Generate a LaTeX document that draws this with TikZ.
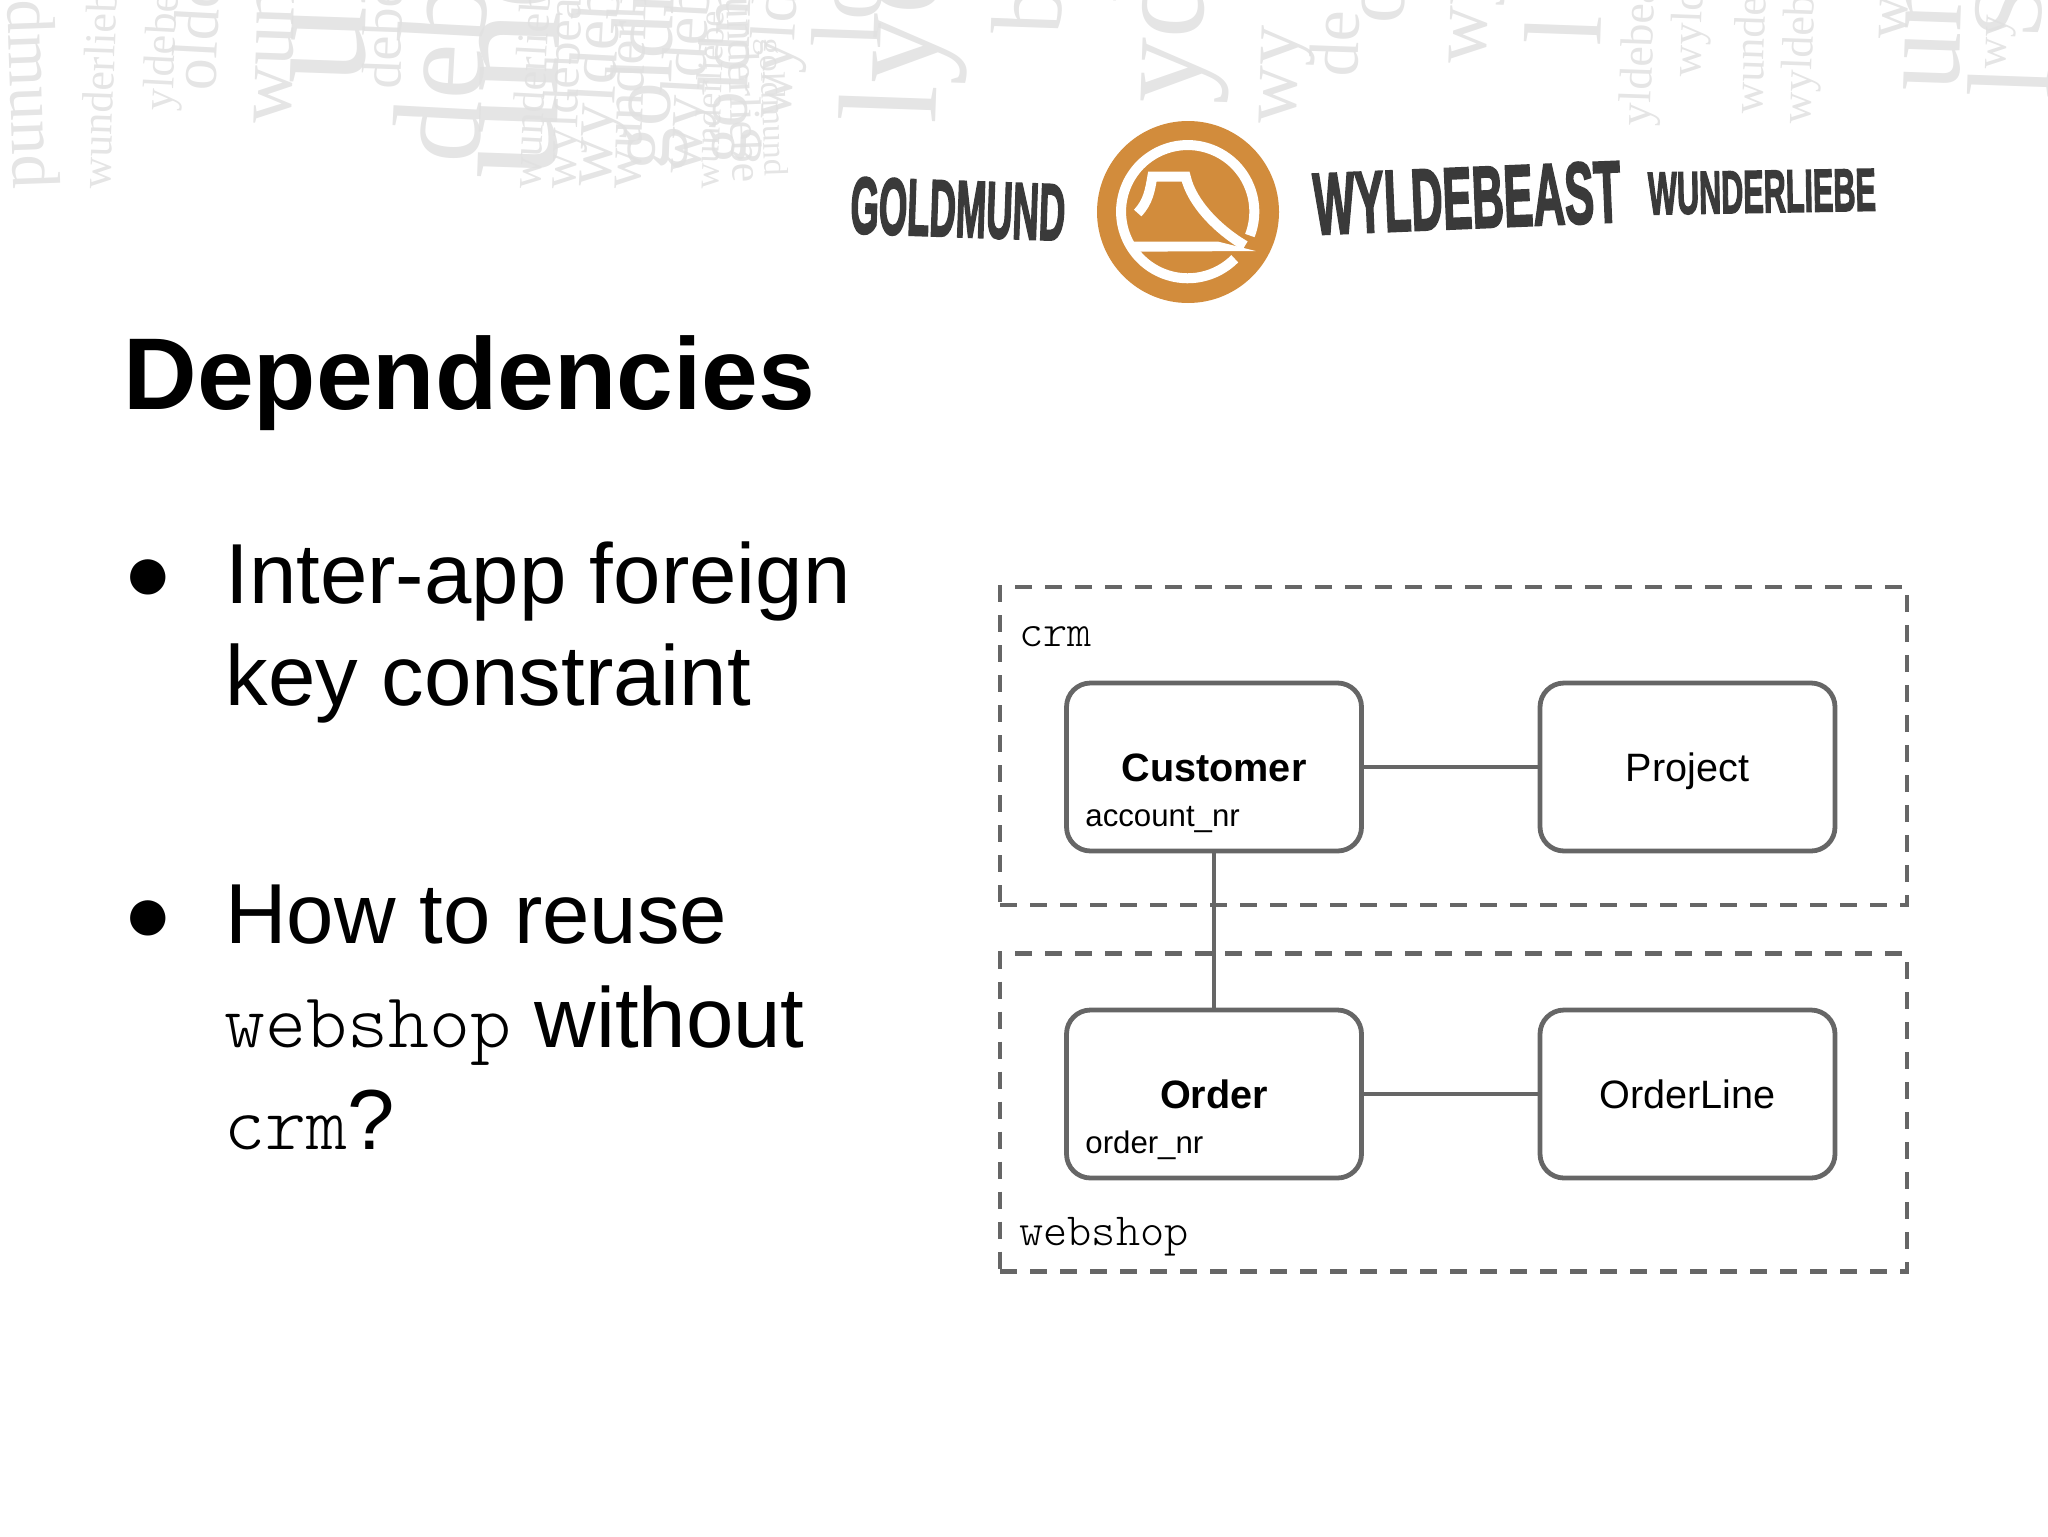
\documentclass[tikz,border=0pt]{standalone}
\usepackage{fontspec}
\setmainfont{Liberation Sans}
\newfontfamily\bgfont{Liberation Serif}
\newfontfamily\logofont[BoldFeatures={FakeBold=3}]{Liberation Sans}
\newfontfamily\codefont{Latin Modern Mono Light}
\definecolor{linegray}{HTML}{666666}
\definecolor{bggray}{HTML}{E0E0E0}
\definecolor{logoorange}{HTML}{D28C3C}
\definecolor{logodark}{HTML}{3A3A3A}
\tikzset{
  bgword/.style={inner sep=0pt, text=bggray, text opacity=0.85, font=\bgfont},
  logoword/.style={inner sep=0pt, text=logodark, font=\logofont\bfseries},
  slidetext/.style={anchor=base west, inner sep=0pt, font=\fontsize{42.6}{42.6}\selectfont},
  bulletmark/.style={inner sep=0pt, font=\fontsize{41}{41}\selectfont},
  groupbox/.style={draw=linegray, line width=2.4pt, dash pattern=on 8.5pt off 6.5pt,
    minimum width=453.5pt, minimum height=159pt, inner sep=0pt},
  grouplabel/.style={anchor=base west, inner sep=0pt, font=\codefont\fontsize{23}{23}\selectfont},
  entity/.style={draw=linegray, line width=2.4pt, rounded corners=12pt, fill=white,
    minimum width=147.5pt, minimum height=84pt, inner sep=0pt,
    text height=14pt, text depth=0pt, font=\fontsize{19.8}{24}\selectfont},
  keyfield/.style={anchor=base west, inner sep=0pt, font=\fontsize{15.6}{18}\selectfont},
  link/.style={draw=linegray, line width=2.4pt},
}
\begin{document}
\begin{tikzpicture}[x=0.5pt, y=-0.5pt]
  \useasboundingbox (0,0) rectangle (2048,1536);
  % background words
  \foreach \px/\py/\ang/\sz/\word [count=\n] in {
    110/190/88/22/wunderliebe, 172/112/87/22/yldebeast, 215/92/87/32/oldo,
    290/125/88/40/wunderliebe, 363/87/88/80/und, 400/90/88/28/debe,
    478/165/87/63/debe, 555/182/88/85/und, 540/190/87/22/wunderliebe,
    575/190/88/25/wyldebeast, 610/188/87/34/wyldebeast, 640/190/88/28/wunderliebe,
    668/172/88/44/goldmund, 700/175/87/32/wyldebeast, 718/190/88/18/wunderliebe,
    745/165/88/36/goldmund, 790/120/87/32/wyldebeast, 935/125/88/70/lyd,
    880/50/88/50/lo, 1060/36/88/50/bs, 1200/105/88/65/yd, 1295/125/88/40/wy,
    1357/78/88/35/de, 1403/25/88/45/o, 1485/65/88/40/wy, 1600/47/88/55/l,
    1650/127/88/23/yldebeast, 1700/78/88/22/wyldebeast, 1762/115/88/22/wunderliebe,
    1810/125/88/22/wyldebeast, 1906/40/88/30/w, 1958/93/88/60/un,
    2005/70/88/22/wy, 2050/100/88/60/l, 2040/40/88/50/S}
    \node[bgword, anchor=base west, rotate=\ang] (bg\n) at (\px,\py) {\fontsize{\sz}{\sz}\selectfont \word};
  \node[bgword, anchor=base east, rotate=-88] (bgmund) at (14,190) {\fontsize{34}{34}\selectfont goldmund};
  \node[bgword, anchor=base east, rotate=-88] (bgliebe) at (733,183) {\fontsize{22}{22}\selectfont wunderliebe};
  \node[bgword, anchor=base east, rotate=-88] (bggold) at (765,177) {\fontsize{17}{17}\selectfont goldmund};
  % logo
  \node[logoword, rotate=-2] (goldmund) at (958,209) {\scalebox{.456}[1]{\fontsize{40}{40}\selectfont GOLDMUND}};
  \node[logoword, rotate=2.4] (wyldebeast) at (1467,198) {\scalebox{.505}[1]{\fontsize{43.5}{43.5}\selectfont WYLDEBEAST}};
  \node[logoword, rotate=1] (wunderliebe) at (1762,192) {\scalebox{.51}[1]{\fontsize{30}{30}\selectfont WUNDERLIEBE}};
  \fill[logoorange] (1188,212) circle (45.5pt);
  \begin{scope}[shift={(1090,115)}, x=0.16667pt, y=-0.16667pt]
    \coordinate (logocenter) at (293,290);
    \draw[white, line width=5pt] (logocenter) ++(-21:33.3pt) arc[start angle=-21, end angle=315, radius=33.3pt];
    \draw[white, line width=5pt, miter limit=10] (143,294) .. controls (175,260) and (180,225) .. (187,185)
      -- (287,185) .. controls (305,265) and (385,345) .. (465,392);
    \fill[white] (120,380) -- (385,380) -- (497,408) -- (140,410) -- cycle;
  \end{scope}
  % title
  \node[anchor=base west, inner sep=0pt, font=\bfseries\fontsize{51}{51}\selectfont] (title) at (123,409) {Dependencies};
  % left column
  \node[bulletmark] (bulletone) at (148,580) {●};
  \node[slidetext] (interapp) at (225,603) {Inter-app foreign};
  \node[slidetext] (keycons) at (225,705) {key constraint};
  \node[bulletmark] (bullettwo) at (148,921) {●};
  \node[slidetext] (howto) at (225,943) {How to reuse};
  \node[slidetext] (reuseweb) at (224,1047) {{\codefont\fontsize{39}{39}\selectfont webshop} without};
  \node[slidetext] (reusecrm) at (224,1149) {{\codefont\fontsize{39}{39}\selectfont crm}?};
  % apps
  \node[groupbox] (crmbox) at (1453.5,746) {};
  \node[groupbox] (webshopbox) at (1453.5,1112.5) {};
  \node[grouplabel] (crmlabel) at (1019,646) {crm};
  \node[grouplabel] (webshoplabel) at (1019,1245) {webshop};
  % models
  \node[entity, font=\bfseries\fontsize{19.8}{24}\selectfont] (customer) at (1214,767) {Customer};
  \node[entity] (project) at (1687.5,767) {Project};
  \node[entity, font=\bfseries\fontsize{19.8}{24}\selectfont] (order) at (1214,1094) {Order};
  \node[entity] (orderline) at (1687.5,1094) {OrderLine};
  \node[keyfield] (accountnr) at (1085,826) {account\_nr};
  \node[keyfield] (ordernr) at (1085,1153) {order\_nr};
  \draw[link] (customer) -- (project);
  \draw[link] (customer) -- (order);
  \draw[link] (order) -- (orderline);
\end{tikzpicture}
\end{document}
